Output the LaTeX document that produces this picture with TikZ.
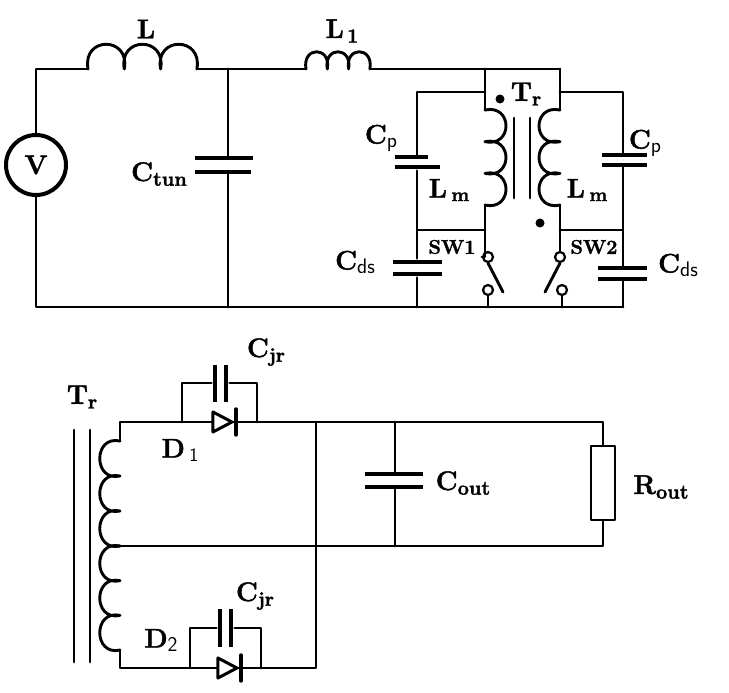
\documentclass[tikz,border=0pt]{standalone}
\usepackage{fontspec}
\setmainfont{Latin Modern Roman}[BoldFeatures={FakeBold=1.6}]
\usepackage{xcolor}
\usetikzlibrary{shapes,positioning,calc}

% label with a lowered tail, serif or sans
\newcommand{\labs}[2]{\textbf{#1}\raisebox{-.4ex}{\fontsize{20}{20}\selectfont\textbf{#2}}}
\newcommand{\labf}[2]{\textbf{#1}\raisebox{-.3ex}{\fontsize{21}{21}\selectfont\textsf{#2}}}
\newcommand{\labm}{\textbf{L}\,\raisebox{-.3ex}{\fontsize{19}{19}\selectfont\textbf{m}}}

\begin{document}
\begin{tikzpicture}[x=1pt,y=-1pt,line width=2.9pt,line cap=round,line join=round]
			\tikzset{
				txt/.style={inner sep=0pt,font=\fontsize{27}{29}\selectfont},
				small/.style={inner sep=0pt,font=\fontsize{20}{22}\selectfont\bfseries},
				plateh/.style={fill=black,inner sep=0pt,minimum height=4.5pt,minimum width=#1},
				platev/.style={fill=black,inner sep=0pt,minimum width=4.5pt,minimum height=#1},
				contact/.style={circle,draw,fill=white,inner sep=0pt,minimum size=10pt,line width=2.2pt},
				diode/.style={isosceles triangle,isosceles triangle stretches,draw,fill=white,inner sep=0pt,minimum width=20pt,minimum height=19pt,line width=3pt},
				bar/.style={line width=3.4pt}
			}
			\useasboundingbox (0,0) rectangle (729,693);
			
			% upper circuit
			\node[circle,draw,line width=4pt,minimum size=60pt,inner sep=0pt,txt] (V) at (36,165) {\textbf{V}};
			
			\coordinate (A1) at (36,69);
			\coordinate (A2) at (88,69);
			\coordinate (A3) at (197,69);
			\coordinate (A4) at (228,69);
			\coordinate (A5) at (306,69);
			\coordinate (A6) at (370,69);
			\coordinate (A7) at (485,69);
			\coordinate (A8) at (560,69);
			\coordinate (B1) at (36,307);
			\coordinate (B2) at (228,307);
			\coordinate (B3) at (417,307);
			\coordinate (B4) at (488,307);
			\coordinate (B5) at (562,307);
			\coordinate (B6) at (623,307);
			
			\node[plateh=58pt] (Ct1) at (224,158) {};
			\node[plateh=56pt] (Ct2) at (223,172) {};
			
			\coordinate (P1) at (485,92);
			\coordinate (P2) at (485,110);
			\coordinate (P3) at (485,205);
			\coordinate (P4) at (485,230);
			\coordinate (Q1) at (560,92);
			\coordinate (Q2) at (560,110);
			\coordinate (Q3) at (560,205);
			\coordinate (Q4) at (560,230);
			\coordinate (M1) at (417,92);
			\coordinate (M2) at (417,230);
			\coordinate (N1) at (623,92);
			\coordinate (N2) at (623,230);
			
			\node[plateh=33pt] (Cp1) at (411,157) {};
			\node[plateh=45pt] (Cp2) at (417,167) {};
			\node[plateh=45pt] (Cp3) at (624,155) {};
			\node[plateh=45pt] (Cp4) at (624,165) {};
			\node[plateh=49pt] (Cd1) at (417,262) {};
			\node[plateh=49pt] (Cd2) at (417,274) {};
			\node[plateh=49pt] (Cd3) at (622,268) {};
			\node[plateh=49pt] (Cd4) at (622,279) {};
			
			\node[contact] (K1) at (488,257) {};
			\node[contact] (K2) at (488,290) {};
			\node[contact] (K3) at (560,257) {};
			\node[contact] (K4) at (562,290) {};
			\coordinate (K5) at (503,292);
			\coordinate (K6) at (545,292);
			
			\draw (V) -- (A1) -- (A2);
			\draw (A3) -- (A4) -- (A5);
			\draw (A6) -- (A7) -- (A8);
			\draw (V) -- (B1) -- (B6);
			\draw (A4) -- (A4 |- Ct1);
			\draw (A4 |- Ct2) -- (B2);
			\draw (A7) -- (P2);
			\draw (A8) -- (Q2);
			\draw (P1) -- (M1) -- (M1 |- Cp1);
			\draw (Cp2) -- (M2) -- (P4);
			\draw (Q1) -- (N1) -- (N1 |- Cp3);
			\draw (N1 |- Cp4) -- (N2) -- (Q4);
			\draw (M2) -- (Cd1);
			\draw (Cd2) -- (B3);
			\draw (N2) -- (N2 |- Cd3);
			\draw (N2 |- Cd4) -- (B6);
			\draw (P3) -- (P3 |- K1) -- (K1);
			\draw (Q3) -- (K3);
			\draw (K2) -- (B4);
			\draw (K4) -- (B5);
			\draw (K1.south) -- (K5);
			\draw (K3.south) -- (K6);
			
			% coils
			\draw (A2) \foreach \i in {1,2,3} { .. controls +(-6,-33) and +(6,-33) .. ++(36.3,0)};
			\draw (A5) \foreach \i in {1,2,3} { .. controls +(-4,-23) and +(4,-23) .. ++(21.3,0)};
			\draw (P2) \foreach \i in {1,2,3} { .. controls +(28,-6) and +(28,6) .. ++(0,31.7)};
			\draw (Q2) \foreach \i in {1,2,3} { .. controls +(-28,-6) and +(-28,6) .. ++(0,31.7)};
			
			\coordinate (Co1) at (514,118);
			\coordinate (Co2) at (514,198);
			\coordinate (Co3) at (530,118);
			\coordinate (Co4) at (530,198);
			\draw (Co1) -- (Co2);
			\draw (Co3) -- (Co4);
			
			\node[circle,fill=black,inner sep=0pt,minimum size=9pt] (Dot1) at (500,99) {};
			\node[circle,fill=black,inner sep=0pt,minimum size=9pt] (Dot2) at (540,223) {};
			
			% lower circuit
			\coordinate (E1) at (120,422);
			\coordinate (E2) at (120,441);
			\coordinate (E3) at (120,546);
			\coordinate (E4) at (120,650);
			\coordinate (E5) at (120,668);
			\coordinate (F1) at (316,422);
			\coordinate (F3) at (316,668);
			\coordinate (G1) at (395,422);
			\coordinate (G2) at (395,546);
			\coordinate (H1) at (603,422);
			\coordinate (H2) at (603,546);
			
			\node[plateh=58pt] (Co5) at (394,474) {};
			\node[plateh=58pt] (Co6) at (394,487) {};
			\node[rectangle,draw,inner sep=0pt,minimum width=24pt,minimum height=74pt] (Rout) at (603,483) {};
			
			\draw (E2) -- (E1) -- (H1) -- (Rout);
			\draw (Rout) -- (H2) -- (E3);
			\draw (E4) -- (E5) -- (F3) -- (F1);
			\draw (G1) -- (G1 |- Co5);
			\draw (G2 |- Co6) -- (G2);
			
			\draw (E2) \foreach \i in {1,2,3} { .. controls +(-27,-6) and +(-27,6) .. ++(0,35)};
			\draw (E3) \foreach \i in {1,2,3} { .. controls +(-27,-6) and +(-27,6) .. ++(0,34.7)};
			
			\coordinate (T1) at (74,430);
			\coordinate (T2) at (74,662);
			\coordinate (T3) at (90,430);
			\coordinate (T4) at (90,662);
			\draw (T1) -- (T2);
			\draw (T3) -- (T4);
			
			\coordinate (J1) at (182,422);
			\coordinate (J2) at (182,383);
			\coordinate (J3) at (257,383);
			\coordinate (J4) at (257,422);
			\node[platev=37pt] (Cj1) at (215,383) {};
			\node[platev=37pt] (Cj2) at (226,383) {};
			\draw (J1) -- (J2) -- (Cj1);
			\draw (Cj2) -- (J3) -- (J4);
			\node[diode] (D1) at (219,422) {};
			\draw[bar] ($(D1.apex)+(0,-13)$) -- ($(D1.apex)+(0,13)$);
			
			\coordinate (J5) at (190,668);
			\coordinate (J6) at (190,628);
			\coordinate (J7) at (261,628);
			\coordinate (J8) at (261,668);
			\node[platev=38pt] (Cj3) at (220,628) {};
			\node[platev=38pt] (Cj4) at (231,628) {};
			\draw (J5) -- (J6) -- (Cj3);
			\draw (Cj4) -- (J7) -- (J8);
			\node[diode] (D2) at (224,668) {};
			\draw[bar] ($(D2.apex)+(0,-13)$) -- ($(D2.apex)+(0,13)$);
			
			% labels
			\node[txt] (tL) at (146,29) {\textbf{L}};
			\node[txt] (tL1) at (342,31) {\labs{L}{\,1}};
			\node[txt] (tCtun) at (159,174) {\labs{C}{tun}};
			\node[txt] (tTr1) at (526,94) {\labs{T}{r}};
			\node[txt] (tCp1) at (381,138) {\labf{C}{p}};
			\node[txt] (tCp2) at (645,143) {\labf{C}{p}};
			\node[txt] (tLm1) at (449,190) {\labm};
			\node[txt] (tLm2) at (587,190) {\labm};
			\node[small] (tSW1) at (452,247) {SW1};
			\node[small] (tSW2) at (594,247) {SW2};
			\node[txt] (tCds1) at (355,262) {\labf{C}{ds}};
			\node[txt] (tCds2) at (678,265) {\labf{C}{ds}};
			\node[txt] (tCj1) at (266,352) {\labs{C}{jr}};
			\node[txt] (tCj2) at (255,596) {\labs{C}{jr}};
			\node[txt] (tTr2) at (82,397) {\labs{T}{r}};
			\node[txt] (tD1) at (180,450) {\textbf{D}\,\raisebox{-.3ex}{\fontsize{19}{19}\selectfont\textsf{1}}};
			\node[txt] (tD2) at (161,640) {\textbf{D}\raisebox{-.3ex}{\fontsize{21}{21}\selectfont\textsf{2}}};
			\node[txt] (tCout) at (463,483) {\labs{C}{out}};
			\node[txt] (tRout) at (661,487) {\labs{R}{out}};
			
			\end{tikzpicture}
\end{document}
